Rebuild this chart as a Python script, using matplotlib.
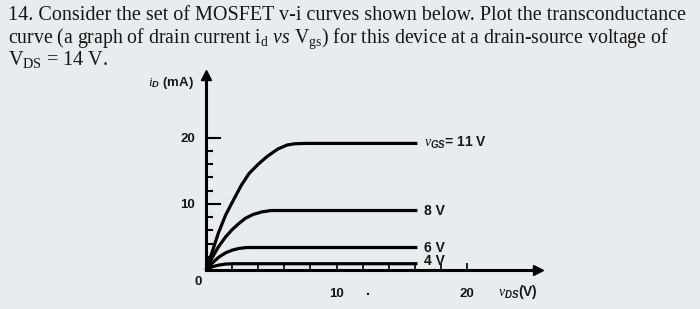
import matplotlib
matplotlib.use("Agg")
import matplotlib.pyplot as plt

# curves: (v_DS in V, i_D in mA)
vds_11 = [0, 0.45, 0.95, 1.5, 2, 2.7, 3.3, 4, 4.7, 5.5, 6.2, 6.8, 7.6, 16.2]
id_11 = [0, 2.6, 5.6, 8.3, 10.2, 12.8, 14.6, 16.0, 17.2, 18.3, 18.9, 19.1, 19.15, 19.15]
vds_8 = [0, 0.45, 0.95, 1.5, 2, 2.5, 3, 3.6, 4.3, 5.0, 16.2]
id_8 = [0, 1.8, 3.5, 5.0, 6.1, 7.0, 7.8, 8.4, 8.8, 9.0, 9.0]
vds_6 = [0, 0.45, 0.95, 1.5, 2, 2.5, 3.1, 16.2]
id_6 = [0, 1.0, 1.9, 2.6, 3.0, 3.25, 3.4, 3.4]
vds_4 = [0, 0.5, 1, 1.5, 2.1, 16.2]
id_4 = [0, 0.5, 0.75, 0.9, 0.95, 0.95]

curve_labels = [r"$v_{\mathsf{GS}}$= 11 V", "8 V", "6 V", "4 V"]
label_y = [19.2, 9.0, 3.4, 1.3]

plt.rcParams['font.family'] = ['Liberation Serif', 'DejaVu Serif']
plt.rcParams['mathtext.fontset'] = 'custom'
plt.rcParams['mathtext.rm'] = 'Liberation Serif'
plt.rcParams['mathtext.it'] = 'Liberation Serif:italic'
plt.rcParams['mathtext.sf'] = 'Liberation Sans:italic:bold'

bg = '#e8ecee'
ink = '#161616'
fig = plt.figure(figsize=(7, 3.09), dpi=100, facecolor=bg)

#Enunciado
fig.text(8/700, 1-15/309, "14. Consider the set of MOSFET v-i curves shown below. Plot the transconductance",
         fontsize=14.5, va='center', color=ink)
fig.text(8/700, 1-39/309, r"curve (a graph of drain current i$_{\rm d}$ $vs$ V$_{\rm gs}$) for this device at a drain-source voltage of",
         fontsize=14.2, va='center', color=ink)
fig.text(8/700, 1-60/309, r"V$_{\rm DS}$ = 14 V.", fontsize=14.5, va='center', color=ink)

#Grafico
ax = fig.add_axes([206/700, 39/309, 331.5/700, 195/309])
ax.set_facecolor('none')
ax.set_xlim(0, 25.4)
ax.set_ylim(0, 29.5)

for x, y in [(vds_11, id_11), (vds_8, id_8), (vds_6, id_6), (vds_4, id_4)]:
    ax.plot(x, y, color='black', lw=2.3, solid_capstyle='butt', clip_on=False)

sans = ['Liberation Sans', 'DejaVu Sans']
for lab, y in zip(curve_labels, label_y):
    ax.text(16.7, y, lab, fontsize=10, fontweight='bold', va='center', ha='left', family=sans, color=ink)

for s in ['top', 'right']:
    ax.spines[s].set_visible(False)
ax.spines['left'].set_linewidth(2.2)
ax.spines['bottom'].set_linewidth(2.2)
ax.plot(0, 1, '^k', ms=7, transform=ax.transAxes, clip_on=False)
ax.plot(1, 0, '>k', ms=7, transform=ax.transAxes, clip_on=False)

ax.set_yticks([10, 20])
ax.set_yticks(range(2, 21, 2), minor=True)
ax.set_xticks([10, 20])
ax.set_xticks(range(2, 21, 2), minor=True)
ax.tick_params(axis='y', which='major', direction='in', length=11, width=1.5, pad=8, labelsize=9.5)
ax.tick_params(axis='y', which='minor', direction='in', length=5, width=1.5)
ax.tick_params(axis='x', which='major', direction='in', length=5, width=1.2, pad=13, labelsize=9.5)
ax.tick_params(axis='x', which='minor', direction='in', length=4, width=1.2)
for t in ax.get_xticklabels() + ax.get_yticklabels():
    t.set_family(sans)
    t.set_fontweight('bold')
    t.set_color(ink)

ax.text(-0.6, -1.8, "0", fontsize=9.5, fontweight='bold', ha='center', va='center', family=sans, color=ink)
ax.text(12.4, -3.2, ".", fontsize=10, fontweight='bold', ha='center', va='center', family=sans, color=ink)
ax.text(25.4, -3.3, r"$v_{\mathsf{DS}}$(V)", fontsize=10, fontweight='bold', ha='right', va='center', family=sans, color=ink)
ax.text(-0.9, 28.3, r"$i_{\mathsf{D}}$ (mA)", fontsize=9.5, fontweight='bold', ha='right', va='center', family=sans, color=ink)

fig.savefig('out.png', dpi=100, facecolor=bg)
